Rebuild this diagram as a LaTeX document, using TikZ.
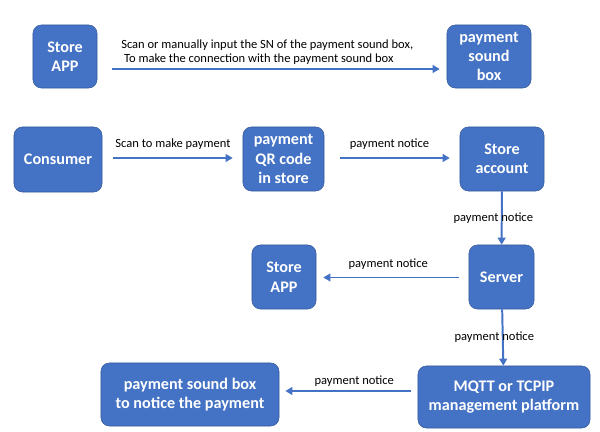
\documentclass[tikz,border=0pt]{standalone}
\usepackage{fontspec}
\setmainfont{Carlito}
\usetikzlibrary{arrows.meta,positioning,calc}

\definecolor{boxblue}{HTML}{4472C4}

\begin{document}
\begin{tikzpicture}[
    x=0.025cm, y=-0.025cm,
    >={Triangle[length=5pt,width=5.5pt]},
    box/.style={
        rectangle, draw=boxblue!80!black, line width=0.4pt, fill=boxblue,
        rounded corners=6pt, text=white, align=center, inner sep=0pt,
        font=\fontsize{11.5}{13.8}\selectfont\bfseries
    },
    lbl/.style={font=\fontsize{8.9}{10.4}\selectfont, inner sep=0pt, text=black},
    arr/.style={->, line width=1.4pt, color=boxblue}
]
    \useasboundingbox (0,0) rectangle (600,432);

    % top row: store app binds the sound box
    \node[box, minimum width=1.6cm, minimum height=1.575cm] (app1) at (65,56.5) {Store\\APP};
    \node[box, minimum width=2.1cm, minimum height=1.575cm] (sound1) at (489,56.5) {payment\\sound\\box};

    % payment flow
    \node[box, minimum width=2.2cm, minimum height=1.625cm] (consumer) at (58,159.5) {Consumer};
    \node[box, minimum width=2.025cm, minimum height=1.6cm] (qr) at (283.5,159) {payment\\QR code\\in store};
    \node[box, minimum width=2.1cm, minimum height=1.6cm] (account) at (502,159) {Store\\account};
    \node[box, minimum width=1.625cm, minimum height=1.6cm] (server) at (501.5,277) {Server};
    \node[box, minimum width=1.6cm, minimum height=1.6cm] (app2) at (284,277) {Store\\APP};
    \node[box, minimum width=4.3cm, minimum height=1.55cm] (mqtt) at (504,397) {MQTT or TCPIP\\management platform};
    \node[box, minimum width=4.45cm, minimum height=1.575cm] (sound2) at (190,394.5) {payment sound box\\to notice the payment};

    \draw[arr] ($(app1.east)+(15,12.5)$) -- ($(sound1.west)+(-7,12.5)$);
    \node[lbl, anchor=west, align=left] (bindlbl) at (121,52)
        {Scan or manually input the SN of the payment sound box,\\\ To make the connection with the payment sound box};

    \draw[arr] ($(consumer.east)+(11,-1.5)$) -- ($(qr.west)+(-10,-1)$)
        node[lbl, midway, above=5pt] {Scan to make payment};
    \draw[arr] ($(qr.east)+(16,-1)$) -- ($(account.west)+(-10,-1)$)
        node[lbl, pos=0.45, above=5pt] {payment notice};
    \draw[arr] (account) -- (server)
        node[lbl, midway, xshift=-6pt] {payment notice};
    \draw[arr] ($(server.west)+(-10,0.5)$) -- ($(app2.east)+(7,0.5)$)
        node[lbl, pos=0.52, above=5pt] {payment notice};
    \draw[arr] (server) -- (mqtt)
        node[lbl, midway, xshift=-6pt] {payment notice};
    \draw[arr] ($(mqtt.west)+(-7,-6)$) -- ($(sound2.east)+(6,-3.5)$)
        node[lbl, pos=0.45, above=2.5pt] {payment notice};
\end{tikzpicture}
\end{document}
